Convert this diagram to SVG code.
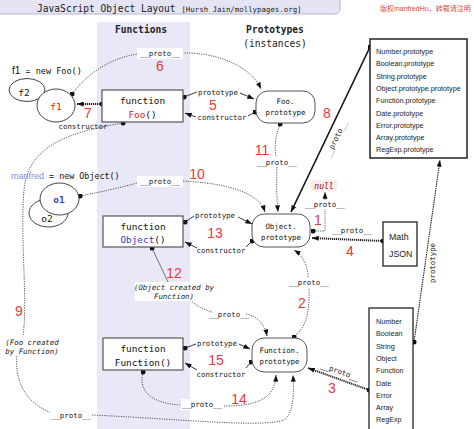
<svg xmlns="http://www.w3.org/2000/svg" width="474" height="429" viewBox="0 0 474 429">
<defs>
<marker id="arr" viewBox="0 0 8 6" refX="8" refY="3" markerWidth="7" markerHeight="5" markerUnits="userSpaceOnUse" orient="auto"><path d="M0,0 L8,3 L0,6 z" fill="#111"/></marker>
<marker id="dot" viewBox="0 0 6 6" refX="3" refY="3" markerWidth="5" markerHeight="5" markerUnits="userSpaceOnUse"><circle cx="3" cy="3" r="3" fill="#111"/></marker>
<style>
.mono{font-family:"DejaVu Sans Mono","Liberation Mono",monospace;}
.lbl{font-family:"DejaVu Sans Mono","Liberation Mono",monospace;font-size:7.4px;fill:#222;}
.num{font-family:"Liberation Sans",Arial,sans-serif;font-size:14px;fill:#e83a3a;text-anchor:middle;}
.ar{font-family:"Liberation Sans",Arial,sans-serif;fill:#222;}
.dotl{fill:none;stroke:#444;stroke-width:0.9;stroke-dasharray:1.2,1.2;}
.sol{fill:none;stroke:#222;stroke-width:0.9;}
.heavy{fill:none;stroke:#222;stroke-width:2;stroke-dasharray:1.2,0.8;}
.fbox{fill:#fff;stroke:#555;stroke-width:1.2;}
.pbox{fill:#fff;stroke:#555;stroke-width:1;}
.bg{fill:#fff;}
</style>
</defs>
<rect x="0" y="0" width="474" height="429" fill="#fff"/>
<!-- title -->
<rect x="-6" y="-6" width="346" height="20" rx="5" fill="#e4e4f4" stroke="#b8b8d0"/>
<text x="37" y="11.5" class="mono" font-size="9.6" fill="#222">JavaScript Object Layout <tspan font-size="7.4">[Hursh Jain/mollypages.org]</tspan></text>
<text x="380" y="11" font-family="'Liberation Sans','Noto Sans CJK SC',sans-serif" font-size="7" fill="#e04848">版权manfredHu，转载请注明</text>
<!-- functions column -->
<rect x="97" y="22" width="93" height="410" fill="#e8e8f9"/>
<text x="141" y="33" class="mono" font-size="9.6" font-weight="bold" text-anchor="middle" fill="#222">Functions</text>
<text x="275" y="33" class="mono" font-size="9.6" font-weight="bold" text-anchor="middle" fill="#222">Prototypes</text>
<text x="275" y="46.5" class="mono" font-size="9.6" text-anchor="middle" fill="#222">(instances)</text>

<g id="connectors">
<!-- 6 f1 proto -> Foo.prototype -->
<path class="dotl" d="M72,94 C90,70 115,57 138,54" marker-start="url(#dot)"/>
<path class="dotl" d="M182,53 C215,52 250,65 261,89" marker-end="url(#arr)"/>
<rect class="bg" x="137" y="48" width="46" height="11"/>
<text class="lbl" x="160" y="56" text-anchor="middle">__proto__</text>
<!-- 7 Foo constructor -> f1 -->
<path class="heavy" d="M102,104 L77,104" marker-start="url(#dot)" marker-end="url(#arr)"/>
<text class="lbl" x="83" y="129" text-anchor="middle">constructor</text>
<!-- 5 Foo prototype / constructor -->
<path class="sol" d="M184,97 L197,92" marker-start="url(#dot)"/>
<path class="sol" d="M240,93 L254,99" marker-end="url(#arr)"/>
<text class="lbl" x="218" y="95" text-anchor="middle">prototype</text>
<path class="sol" d="M255,112 L248,116" marker-start="url(#dot)"/>
<path class="sol" d="M196,117 L185,113" marker-end="url(#arr)"/>
<text class="lbl" x="222" y="120" text-anchor="middle">constructor</text>
<!-- 11 Foo.prototype proto -> Object.prototype -->
<path class="dotl" d="M280,124 C276,135 274,145 276,156" marker-start="url(#dot)"/>
<path class="dotl" d="M277,167 C276,185 277,200 278,212" marker-end="url(#arr)"/>
<text class="lbl" x="277" y="165" text-anchor="middle">__proto__</text>
<!-- 8 builtin prototypes proto -> Object.prototype -->
<path fill="none" stroke="#111" stroke-width="1.6" d="M370,47 L291,212" marker-start="url(#dot)" marker-end="url(#arr)"/>
<text class="lbl" transform="translate(338,140) rotate(-64)" text-anchor="middle">__proto__</text>
<!-- 10 o1 proto -> Object.prototype -->
<path class="dotl" d="M80,196 C100,192 120,188 137,183" marker-start="url(#dot)"/>
<path class="dotl" d="M183,181 C220,183 258,190 265,212" marker-end="url(#arr)"/>
<rect class="bg" x="137" y="176" width="46" height="11"/>
<text class="lbl" x="160" y="184" text-anchor="middle">__proto__</text>
<!-- 1 Object.prototype proto -> null -->
<path class="dotl" d="M313,231 L325,231 L325,192" marker-start="url(#dot)" marker-end="url(#arr)"/>
<rect class="bg" x="306" y="200" width="38" height="9"/>
<text class="lbl" x="325" y="207" text-anchor="middle">__proto__</text>
<rect x="311" y="180" width="26" height="11" rx="3" fill="#fbeaea"/>
<text x="324" y="188.5" class="mono" font-size="8" font-style="italic" fill="#8a1010" text-anchor="middle">null</text>
<!-- 4 Math/JSON -> Object.prototype -->
<path class="heavy" d="M383,241 L312,238" marker-start="url(#dot)" marker-end="url(#arr)"/>
<text class="lbl" x="352" y="233" text-anchor="middle">__proto__</text>
<!-- 13 Object() prototype / constructor -->
<path class="sol" d="M185,222 L194,216" marker-start="url(#dot)"/>
<path class="sol" d="M238,217 L252,224" marker-end="url(#arr)"/>
<text class="lbl" x="215" y="218" text-anchor="middle">prototype</text>
<path class="sol" d="M252,241 L246,247" marker-start="url(#dot)"/>
<path class="sol" d="M197,248 L185,242" marker-end="url(#arr)"/>
<text class="lbl" x="221" y="253" text-anchor="middle">constructor</text>
<!-- 2 Function.prototype proto -> Object.prototype -->
<path class="dotl" d="M294,337 C305,328 310,315 309,288" marker-start="url(#dot)"/>
<path class="dotl" d="M308,277 C308,265 302,255 294,250" marker-end="url(#arr)"/>
<text class="lbl" x="309" y="285" text-anchor="middle">__proto__</text>
<!-- 12 Object() proto -> Function.prototype -->
<path fill="none" stroke="#555" stroke-width="0.8" d="M152,248 L168,282" marker-start="url(#dot)"/>
<path class="dotl" d="M190,300 C198,307 205,310 212,312"/>
<path class="dotl" d="M246,314 C258,316 265,325 267,336" marker-end="url(#arr)"/>
<rect class="bg" x="135" y="282" width="79" height="19"/>
<text class="lbl" x="174" y="290" text-anchor="middle" font-style="italic">(Object created by</text>
<text class="lbl" x="174" y="299" text-anchor="middle" font-style="italic">Function)</text>
<text class="lbl" x="229" y="317" text-anchor="middle">__proto__</text>
<!-- 15 Function() prototype / constructor -->
<path class="sol" d="M185,348 L196,344" marker-start="url(#dot)"/>
<path class="sol" d="M239,344 L250,349" marker-end="url(#arr)"/>
<text class="lbl" x="217" y="346" text-anchor="middle">prototype</text>
<path class="sol" d="M251,362 L246,368" marker-start="url(#dot)"/>
<path class="sol" d="M197,370 L185,363" marker-end="url(#arr)"/>
<text class="lbl" x="221" y="377" text-anchor="middle">constructor</text>
<!-- 14 Function() proto -> Function.prototype -->
<path class="dotl" d="M143,372 C138,392 152,403 180,405" marker-start="url(#dot)"/>
<path class="dotl" d="M224,406 C255,406 275,400 276,375" marker-end="url(#arr)"/>
<rect class="bg" x="181" y="399" width="43" height="11"/>
<text class="lbl" x="202" y="407" text-anchor="middle">__proto__</text>
<!-- 9 Foo() proto -> Function.prototype -->
<path class="dotl" d="M123,123 C70,132 28,145 24,190 C20,240 28,300 23,336" marker-start="url(#dot)"/>
<path class="dotl" d="M17,356 C14,385 30,405 50,412"/>
<path class="dotl" d="M92,415 C180,419 262,428 284,420 C294,414 294,392 293,375" marker-end="url(#arr)"/>
<text class="lbl" x="32" y="345" text-anchor="middle" font-style="italic">(Foo created</text>
<text class="lbl" x="32" y="354" text-anchor="middle" font-style="italic">by Function)</text>
<text class="lbl" x="71" y="418" text-anchor="middle">__proto__</text>
<!-- 3 builtin constructors proto -> Function.prototype -->
<path class="heavy" d="M369,390 L308,368" marker-start="url(#dot)" marker-end="url(#arr)"/>
<text class="lbl" transform="translate(339,374) rotate(19.5)" text-anchor="middle">__proto__</text>
<!-- prototype: builtin constructors -> builtin prototypes -->
<path fill="none" stroke="#222" stroke-width="1.1" stroke-dasharray="1.5,0.8" d="M414,342 L440,160" marker-start="url(#dot)" marker-end="url(#arr)"/>
<text class="lbl" transform="translate(435,263) rotate(-90)" text-anchor="middle">prototype</text>
</g>

<!-- numbers -->
<g id="numbers">
<text class="num" x="160" y="71">6</text>
<text class="num" x="213" y="110">5</text>
<text class="num" x="88" y="118">7</text>
<text class="num" x="262" y="155">11</text>
<text class="num" x="327" y="118">8</text>
<text class="num" x="197" y="179">10</text>
<text class="num" x="318" y="225">1</text>
<text class="num" x="350" y="256">4</text>
<text class="num" x="215" y="238">13</text>
<text class="num" x="174" y="278">12</text>
<text class="num" x="302" y="308">2</text>
<text class="num" x="19" y="316">9</text>
<text class="num" x="216" y="365">15</text>
<text class="num" x="239" y="404">14</text>
<text class="num" x="332" y="393">3</text>
</g>

<!-- instances -->
<g id="f1-decl"><text x="12" y="74" class="mono" font-size="8.5" fill="#111"><tspan font-family="'Liberation Sans',sans-serif" font-size="10">f1</tspan> = new Foo()</text></g>
<g id="f2"><ellipse cx="27" cy="90" rx="18" ry="11.5" fill="#fff" stroke="#444"/><text x="24" y="96" class="mono" font-size="9.5" fill="#111" text-anchor="middle">f2</text></g>
<g id="f1"><ellipse cx="56" cy="105.5" rx="19" ry="16.5" fill="#fff" stroke="#444"/><text x="56" y="110" class="mono" font-size="9.5" fill="#e02020" text-anchor="middle">f1</text></g>
<g id="manfred-decl"><text x="11" y="179" class="mono" font-size="8.4" fill="#111"><tspan fill="#8a8ae0" font-family="'Liberation Sans',sans-serif" font-size="9">manfred</tspan> = new Object()</text></g>
<g id="o2"><ellipse cx="48.5" cy="213" rx="19.5" ry="14" fill="#fff" stroke="#444"/><text x="47" y="222" class="mono" font-size="9.5" fill="#111" text-anchor="middle">o2</text></g>
<g id="o1"><ellipse cx="59.5" cy="199" rx="19.5" ry="16" fill="#fff" stroke="#444"/><text x="59" y="203" class="mono" font-size="9.5" font-weight="bold" fill="#3a3ac8" text-anchor="middle">o1</text></g>

<!-- function boxes -->
<g id="Foo"><rect class="fbox" x="102" y="90" width="81" height="32"/>
<text x="142.5" y="104" class="mono" font-size="9.4" fill="#111" text-anchor="middle">function</text>
<text x="142.5" y="118" class="mono" font-size="9.4" fill="#111" text-anchor="middle"><tspan fill="#e02020">Foo</tspan>()</text></g>
<g id="Object"><rect class="fbox" x="103" y="216" width="80" height="31"/>
<text x="143" y="229.5" class="mono" font-size="9.4" fill="#111" text-anchor="middle">function</text>
<text x="143" y="243" class="mono" font-size="9.4" fill="#111" text-anchor="middle"><tspan fill="#3a3ac8">Object</tspan>()</text></g>
<g id="Function"><rect class="fbox" x="103" y="338" width="80" height="32"/>
<text x="143" y="352" class="mono" font-size="9.4" fill="#111" text-anchor="middle">function</text>
<text x="143" y="365.5" class="mono" font-size="9.4" fill="#111" text-anchor="middle">Function()</text></g>

<!-- prototype nodes -->
<g id="Foo.prototype"><rect class="pbox" x="256" y="91" width="59" height="32" rx="12"/>
<text x="285.5" y="104" class="mono" font-size="7.4" fill="#111" text-anchor="middle">Foo.</text>
<text x="285.5" y="115" class="mono" font-size="7.4" fill="#111" text-anchor="middle">prototype</text></g>
<g id="Object.prototype"><rect class="pbox" x="252" y="214" width="58" height="33" rx="12"/>
<text x="281" y="229" class="mono" font-size="7.4" fill="#111" text-anchor="middle">Object.</text>
<text x="281" y="240" class="mono" font-size="7.4" fill="#111" text-anchor="middle">prototype</text></g>
<g id="Function.prototype"><rect class="pbox" x="252" y="338" width="55" height="34" rx="12"/>
<text x="279.5" y="353" class="mono" font-size="7.4" fill="#111" text-anchor="middle">Function.</text>
<text x="279.5" y="364" class="mono" font-size="7.4" fill="#111" text-anchor="middle">prototype</text></g>

<!-- builtin boxes -->
<g id="builtin-prototypes"><rect x="370" y="39" width="97" height="119" fill="#fff" stroke="#222" stroke-width="1.5"/>
<g class="ar" font-size="7.2">
<text x="376" y="54">Number.prototype</text>
<text x="376" y="66.3">Boolean.prototype</text>
<text x="376" y="78.6">String.prototype</text>
<text x="376" y="90.9">Object.prototype.prototype</text>
<text x="376" y="103.2">Function.prototype</text>
<text x="376" y="115.5">Date.prototype</text>
<text x="376" y="127.8">Error.prototype</text>
<text x="376" y="140.1">Array.prototype</text>
<text x="376" y="152.4">RegExp.prototype</text>
</g></g>
<g id="Math-JSON"><rect x="383" y="222" width="34" height="44" fill="#fff" stroke="#222" stroke-width="1.3"/>
<text x="389" y="240" class="ar" font-size="8.8">Math</text>
<text x="389" y="257" class="ar" font-size="8.8">JSON</text></g>
<g id="builtin-constructors"><rect x="369" y="308" width="44" height="126" fill="#fff" stroke="#222" stroke-width="1.3"/>
<g class="ar" font-size="7.2">
<text x="376" y="324">Number</text>
<text x="376" y="336.3">Boolean</text>
<text x="376" y="348.6">String</text>
<text x="376" y="360.9">Object</text>
<text x="376" y="373.2">Function</text>
<text x="376" y="385.5">Date</text>
<text x="376" y="397.8">Error</text>
<text x="376" y="410.1">Array</text>
<text x="376" y="422.4">RegExp</text>
</g></g>
</svg>
